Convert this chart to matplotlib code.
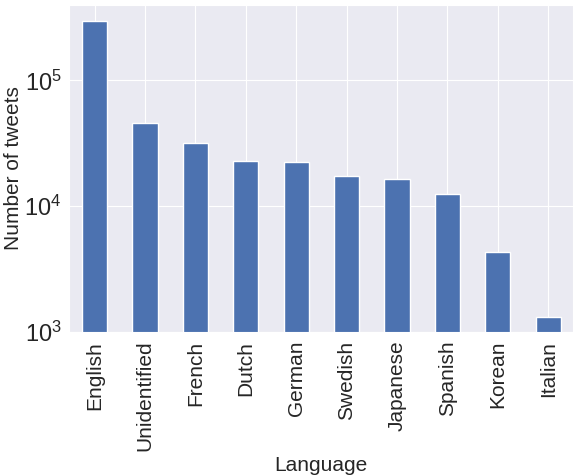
import matplotlib
matplotlib.use("Agg")
import matplotlib.pyplot as plt
import seaborn as sns

languages = ["English", "Unidentified", "French", "Dutch", "German",
             "Swedish", "Japanese", "Spanish", "Korean", "Italian"]
counts = [295000, 46000, 32000, 23000, 22500, 17500, 16500, 12500, 4300, 1300]

sns.set_style("darkgrid")
plt.rcParams["font.family"] = ["Liberation Sans", "DejaVu Sans"]

fig, ax = plt.subplots(figsize=(5.78, 4.76), dpi=100)
ax.bar(range(len(languages)), counts, width=0.5, color="#4c72b0")
ax.set_yscale("log")
ax.set_ylim(1000, 4e5)
ax.set_xlim(-0.5, len(languages) - 0.5)
ax.set_xticks(range(len(languages)))
ax.set_xticklabels(languages, rotation=90, fontsize=15)
ax.tick_params(axis="y", labelsize=17, pad=2)
ax.tick_params(axis="x", pad=3)
ax.set_xlabel("Language", fontsize=15, labelpad=3)
ax.set_ylabel("Number of tweets", fontsize=15, labelpad=1)
fig.subplots_adjust(left=0.12, right=0.992, top=0.99, bottom=0.303)
fig.savefig("out.png", dpi=100)
